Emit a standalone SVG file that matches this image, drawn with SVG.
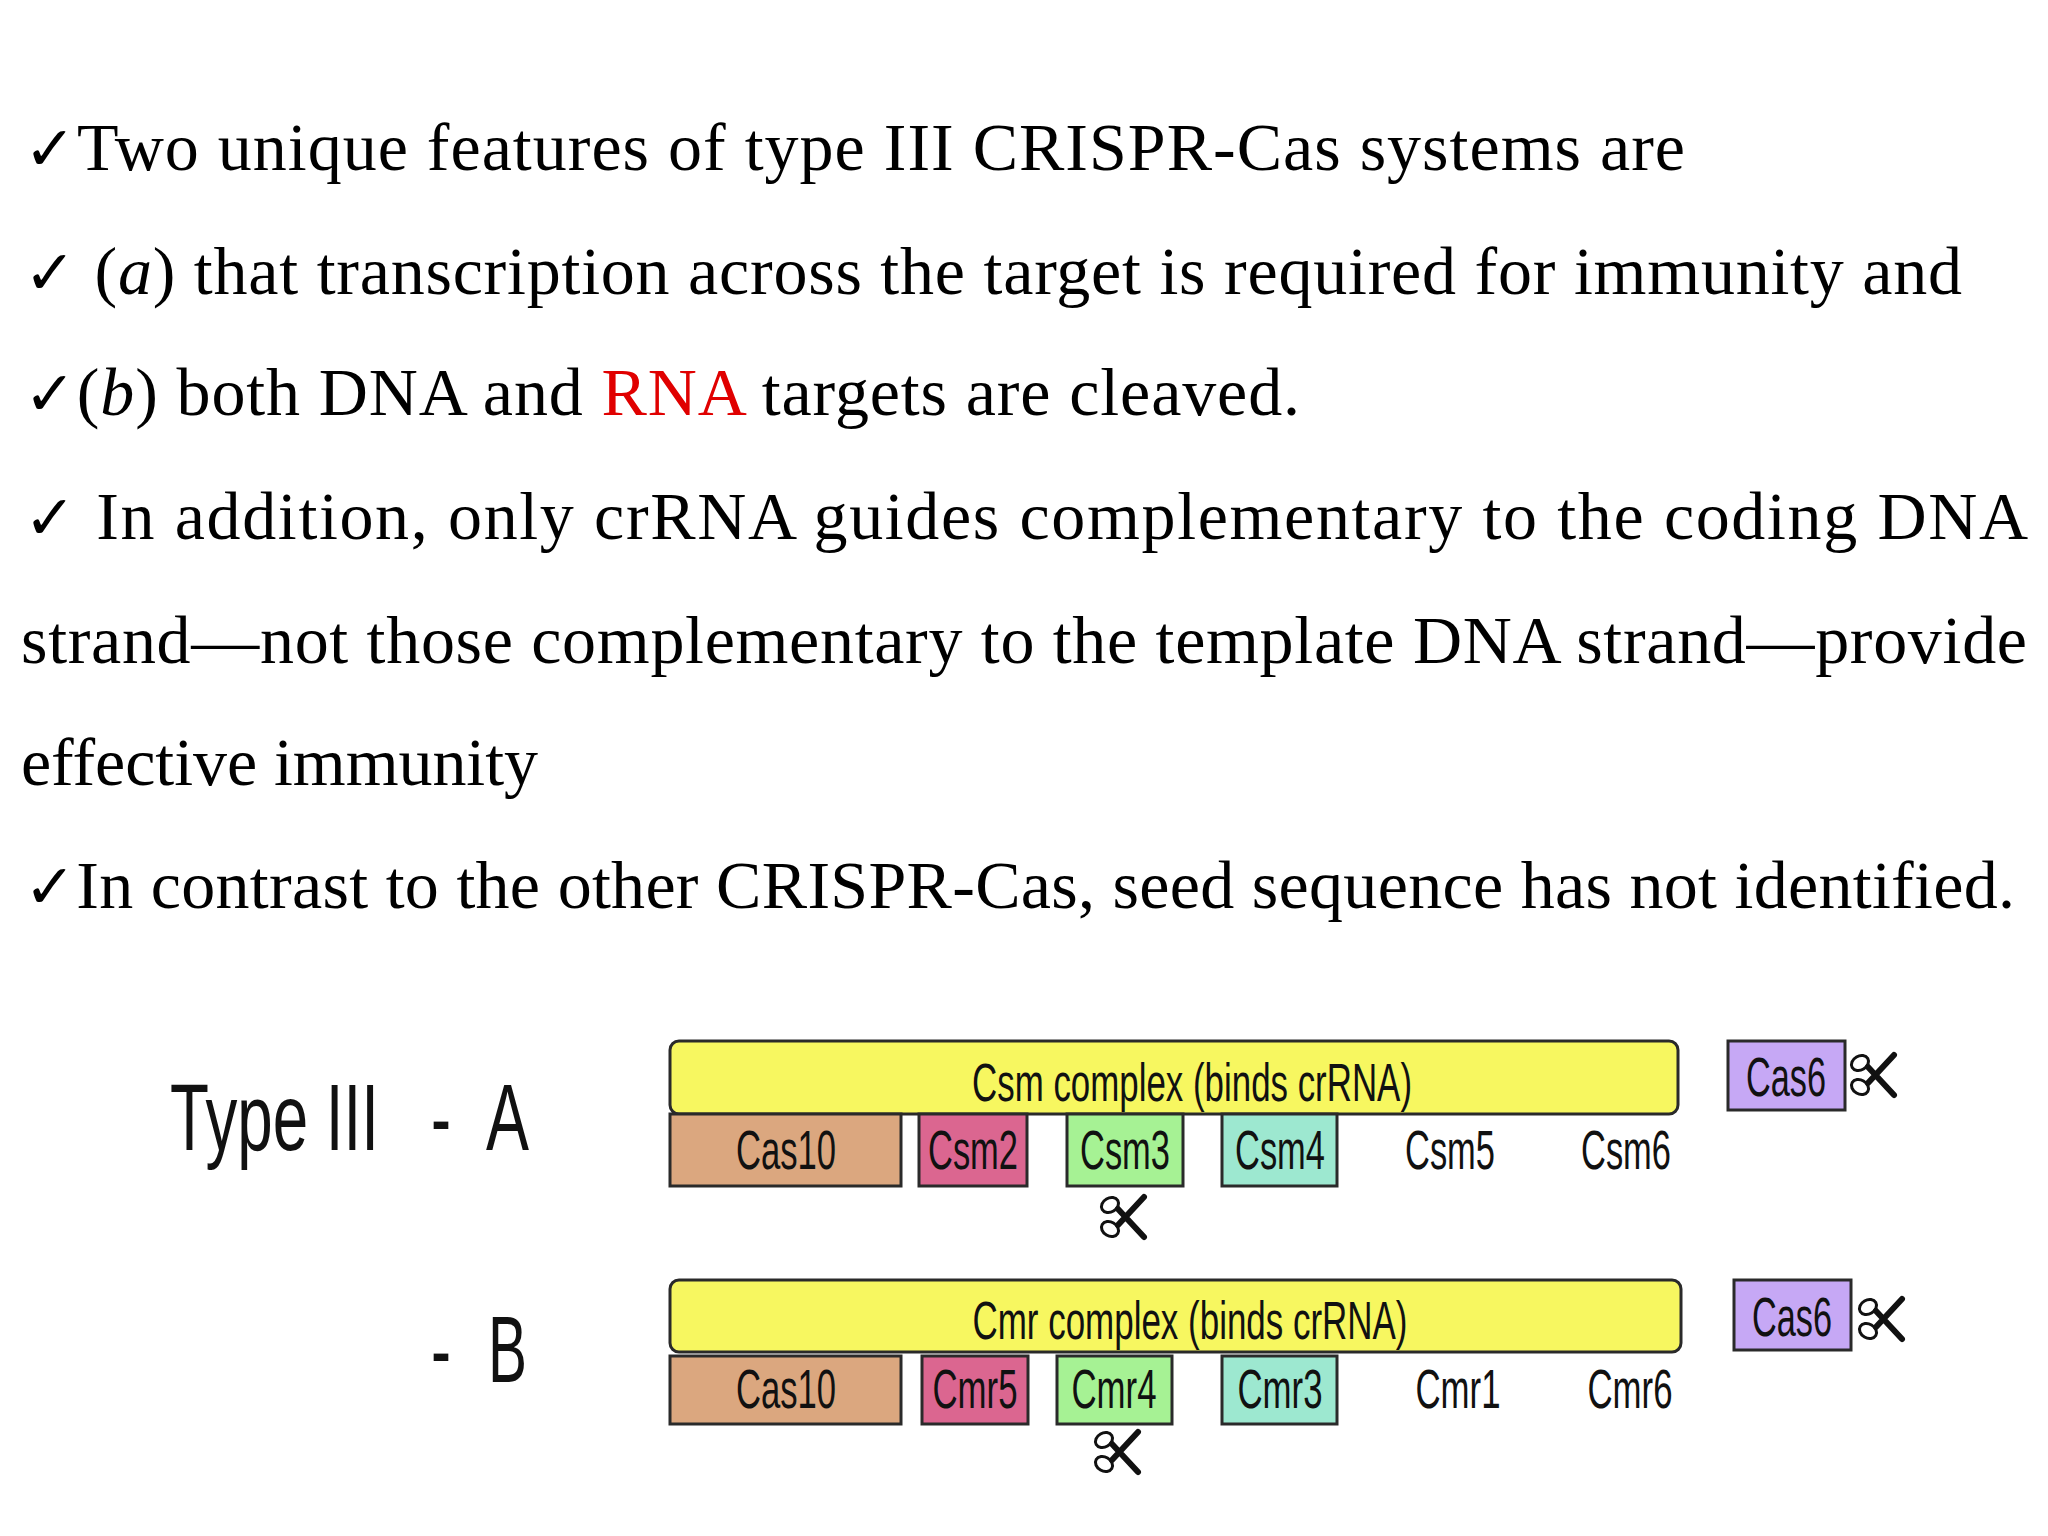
<svg xmlns="http://www.w3.org/2000/svg" width="2048" height="1536" viewBox="0 0 2048 1536">
<style>
.t{font-family:"Liberation Serif","Times New Roman",serif;font-size:68px;fill:#000}
.ck{font-family:"DejaVu Sans",sans-serif;font-size:62px}
.n{font-family:"Liberation Sans Narrow","Liberation Sans",Arial,sans-serif;fill:#111}
.lbl{font-size:56px;text-anchor:middle}
.bx{stroke:#2a2a2a;stroke-width:3}
.sc{fill:none;stroke:#111;stroke-width:3}
</style>
<defs>
<g id="sc">
<ellipse cx="-12" cy="-12" rx="9" ry="7" class="sc" transform="rotate(-30 -12 -12)"/>
<ellipse cx="-12" cy="12" rx="9" ry="7" class="sc" transform="rotate(30 -12 12)"/>
<path d="M-4 -8 L22 20 M-4 8 L22 -20" stroke="#111" stroke-width="6" stroke-linecap="round"/>
</g>
</defs>
<rect width="2048" height="1536" fill="#fff"/>
<g id="text">
<text class="t" x="24" y="170" textLength="1661" lengthAdjust="spacing"><tspan class="ck">✓</tspan>Two  unique  features  of type III CRISPR-Cas systems are</text>
<text class="t" x="24" y="294" textLength="1938" lengthAdjust="spacing"><tspan class="ck">✓</tspan> (<tspan font-style="italic">a</tspan>) that  transcription across the target  is required  for immunity and</text>
<text class="t" x="24" y="415" textLength="1276" lengthAdjust="spacing"><tspan class="ck">✓</tspan>(<tspan font-style="italic">b</tspan>) both  DNA  and <tspan fill="#e00000">RNA</tspan> targets are cleaved.</text>
<text class="t" x="24" y="539" textLength="2004" lengthAdjust="spacing"><tspan class="ck">✓</tspan> In addition,  only crRNA  guides complementary to the coding DNA</text>
<text class="t" x="21" y="663" textLength="2006" lengthAdjust="spacing">strand—not  those complementary to the template  DNA strand—provide</text>
<text class="t" x="21" y="785" textLength="517" lengthAdjust="spacing">effective immunity</text>
<text class="t" x="24" y="908" textLength="1991" lengthAdjust="spacing"><tspan class="ck">✓</tspan>In contrast  to the other CRISPR-Cas, seed sequence has not identified.</text>
</g>
<g id="labels" class="n" font-size="94">
<text x="170" y="1150" textLength="209" lengthAdjust="spacingAndGlyphs">Type III</text>
<text x="431" y="1150" textLength="20" lengthAdjust="spacingAndGlyphs">-</text>
<text x="486" y="1150" textLength="43" lengthAdjust="spacingAndGlyphs">A</text>
<text x="431" y="1382" textLength="20" lengthAdjust="spacingAndGlyphs">-</text>
<text x="488" y="1382" textLength="39" lengthAdjust="spacingAndGlyphs">B</text>
</g>
<g id="typeA">
<rect class="bx" x="670" y="1041" width="1008" height="73" rx="9" fill="#f7f760"/>
<text class="n" x="1192" y="1101" font-size="54" text-anchor="middle" textLength="440" lengthAdjust="spacingAndGlyphs">Csm complex (binds crRNA)</text>
<rect class="bx" x="670" y="1114" width="231" height="72" fill="#dba77f"/>
<rect class="bx" x="919" y="1114" width="108" height="72" fill="#db6690"/>
<rect class="bx" x="1067" y="1114" width="116" height="72" fill="#a6f294"/>
<rect class="bx" x="1222" y="1114" width="115" height="72" fill="#9de8d0"/>
<g class="n lbl">
<text x="786" y="1169" textLength="100" lengthAdjust="spacingAndGlyphs">Cas10</text>
<text x="973" y="1169" textLength="90" lengthAdjust="spacingAndGlyphs">Csm2</text>
<text x="1125" y="1169" textLength="90" lengthAdjust="spacingAndGlyphs">Csm3</text>
<text x="1280" y="1169" textLength="90" lengthAdjust="spacingAndGlyphs">Csm4</text>
<text x="1450" y="1169" textLength="90" lengthAdjust="spacingAndGlyphs">Csm5</text>
<text x="1626" y="1169" textLength="90" lengthAdjust="spacingAndGlyphs">Csm6</text>
</g>
<rect class="bx" x="1728" y="1041" width="117" height="69" fill="#c6a8f5"/>
<text class="n lbl" x="1786" y="1096" textLength="80" lengthAdjust="spacingAndGlyphs">Cas6</text>
<use href="#sc" x="1872" y="1075"/>
<use href="#sc" x="1122" y="1217"/>
</g>
<g id="typeB">
<rect class="bx" x="670" y="1280" width="1011" height="72" rx="9" fill="#f7f760"/>
<text class="n" x="1190" y="1339" font-size="54" text-anchor="middle" textLength="435" lengthAdjust="spacingAndGlyphs">Cmr complex (binds crRNA)</text>
<rect class="bx" x="670" y="1356" width="231" height="68" fill="#dba77f"/>
<rect class="bx" x="922" y="1356" width="106" height="68" fill="#db6690"/>
<rect class="bx" x="1057" y="1356" width="115" height="68" fill="#a6f294"/>
<rect class="bx" x="1222" y="1356" width="115" height="68" fill="#9de8d0"/>
<g class="n lbl">
<text x="786" y="1408" textLength="100" lengthAdjust="spacingAndGlyphs">Cas10</text>
<text x="975" y="1408" textLength="85" lengthAdjust="spacingAndGlyphs">Cmr5</text>
<text x="1114" y="1408" textLength="85" lengthAdjust="spacingAndGlyphs">Cmr4</text>
<text x="1280" y="1408" textLength="85" lengthAdjust="spacingAndGlyphs">Cmr3</text>
<text x="1458" y="1408" textLength="85" lengthAdjust="spacingAndGlyphs">Cmr1</text>
<text x="1630" y="1408" textLength="85" lengthAdjust="spacingAndGlyphs">Cmr6</text>
</g>
<rect class="bx" x="1734" y="1280" width="117" height="70" fill="#c6a8f5"/>
<text class="n lbl" x="1792" y="1336" textLength="80" lengthAdjust="spacingAndGlyphs">Cas6</text>
<use href="#sc" x="1880" y="1319"/>
<use href="#sc" x="1116" y="1452"/>
</g>
<g id="connectors"/>
</svg>
